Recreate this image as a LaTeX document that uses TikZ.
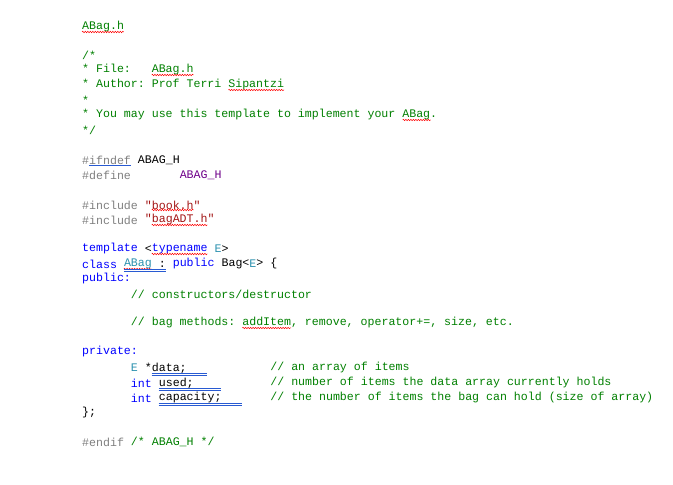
\documentclass[tikz,border=0pt]{standalone}
\usepackage{fontspec}
\setmonofont{Liberation Mono}
\usetikzlibrary{decorations.pathmorphing}
\definecolor{cgreen}{RGB}{0,128,0}
\definecolor{cgray}{RGB}{128,128,128}
\definecolor{cblue}{RGB}{0,0,255}
\definecolor{cteal}{RGB}{43,145,175}
\definecolor{cstr}{RGB}{163,21,21}
\definecolor{cpurp}{RGB}{111,0,138}
\definecolor{cul}{RGB}{40,90,210}
\tikzset{code/.style={anchor=west,inner sep=0pt,font=\fontsize{11.6pt}{13pt}\ttfamily},
squig/.style={red,line width=0.5pt,decorate,decoration={snake,amplitude=0.7pt,segment length=2.5pt}},
dul/.style={cul,line width=0.6pt}}
\newcommand{\sg}[5]{\node[code,text=#4] (#1) at ({82+6.97*#2},{485-#3}) {#5};}
\newcommand{\sq}[3]{\draw[squig] ({82+6.97*#1},{485-#3-5}) -- ({82+6.97*#2},{485-#3-5});}
\newcommand{\du}[3]{\draw[dul] ({82+6.97*#1},{485-#3-5}) -- ({82+6.97*#2},{485-#3-5}); \draw[dul] ({82+6.97*#1},{485-#3-7}) -- ({82+6.97*#2},{485-#3-7});}
\begin{document}
\begin{tikzpicture}[x=1pt,y=1pt]
\useasboundingbox (0,0) rectangle (673,485);
\fill[white] (0,0) rectangle (673,485);
\sg{a1}{0}{27}{cgreen}{ABag.h}
\sg{a2}{0}{55}{cgreen}{/*}
\sg{a3}{0}{70}{cgreen}{* File:\ \ \ ABag.h}
\sg{a4}{0}{85}{cgreen}{* Author: Prof Terri Sipantzi}
\sg{a5}{0}{100}{cgreen}{*}
\sg{a6}{0}{115}{cgreen}{* You may use this template to implement your ABag.}
\sg{a7}{0}{130}{cgreen}{*/}
\sg{b1}{0}{160}{cgray}{\#ifndef}
\sg{b1b}{8}{160}{black}{ABAG\_H}
\sg{b2}{0}{175}{cgray}{\#define}
\sg{b2b}{14}{175}{cpurp}{ABAG\_H}
\sg{c1}{0}{205}{cgray}{\#include}
\sg{c1b}{9}{205}{cstr}{"book.h"}
\sg{c2}{0}{220}{cgray}{\#include}
\sg{c2b}{9}{220}{cstr}{"bagADT.h"}
\sg{d1}{0}{249}{cblue}{template}
\sg{d1b}{9}{249}{black}{<}
\sg{d1c}{10}{249}{cblue}{typename}
\sg{d1d}{19}{249}{cteal}{E}
\sg{d1e}{20}{249}{black}{>}
\sg{d2}{0}{264}{cblue}{class}
\sg{d2b}{6}{264}{cteal}{ABag}
\sg{d2c}{11}{264}{black}{:}
\sg{d2d}{13}{264}{cblue}{public}
\sg{d2e}{20}{264}{black}{Bag<}
\sg{d2f}{24}{264}{cteal}{E}
\sg{d2g}{25}{264}{black}{> \{}
\sg{d3}{0}{279}{cblue}{public:}
\sg{d4}{7}{294}{cgreen}{// constructors/destructor}
\sg{d5}{7}{323}{cgreen}{// bag methods: addItem, remove, operator+=, size, etc.}
\sg{e1}{0}{352}{cblue}{private:}
\sg{e2}{7}{368}{cteal}{E}
\sg{e2b}{9}{368}{black}{*data;}
\sg{e2c}{27}{368}{cgreen}{// an array of items}
\sg{e3}{7}{383}{cblue}{int}
\sg{e3b}{11}{383}{black}{used;}
\sg{e3c}{27}{383}{cgreen}{// number of items the data array currently holds}
\sg{e4}{7}{398}{cblue}{int}
\sg{e4b}{11}{398}{black}{capacity;}
\sg{e4c}{27}{398}{cgreen}{// the number of items the bag can hold (size of array)}
\sg{e5}{0}{413}{black}{\};}
\sg{f1}{0}{442}{cgray}{\#endif}
\sg{f1b}{7}{442}{cgreen}{/* ABAG\_H */}
\sq{0}{6}{27}
\sq{10}{16}{70}
\sq{21}{29}{85}
\sq{46}{50}{115}
\draw[cul,line width=0.6pt] ({82+6.97*1},{485-160-5}) -- ({82+6.97*7},{485-160-5});
\sq{10}{16}{205}
\sq{10}{18}{220}
\sq{10}{18}{249}
\sq{6}{10}{264}
\du{6}{12}{264}
\sq{23}{30}{323}
\du{10}{18}{368}
\du{11}{20}{383}
\du{11}{23}{398}
\end{tikzpicture}
\end{document}
